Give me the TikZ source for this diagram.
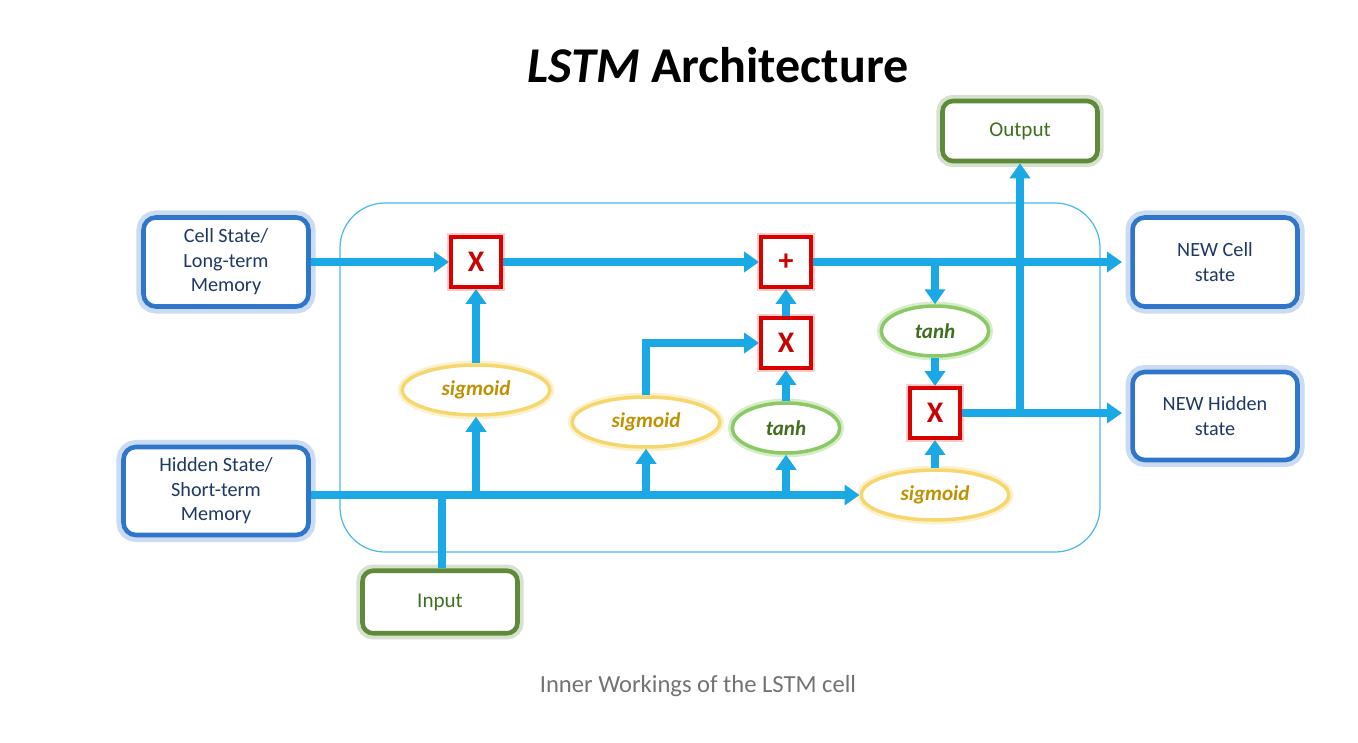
\documentclass[tikz,border=0pt]{standalone}
\usepackage{fontspec}
\setmainfont{Carlito}
\usetikzlibrary{arrows.meta,shapes.geometric,positioning}
\definecolor{flow}{HTML}{1BA9E6}
\definecolor{navy}{HTML}{1F3864}
\definecolor{bbox}{HTML}{2F75C9}
\definecolor{gbox}{HTML}{5E8A3A}
\definecolor{gtext}{HTML}{3F6F1F}
\definecolor{ytext}{HTML}{BF9000}
\definecolor{yline}{HTML}{F5D76E}
\definecolor{gline}{HTML}{8CC966}
\begin{document}
\begin{tikzpicture}[x=0.02cm,y=-0.02cm,
  flowl/.style={draw=flow,line width=0.16cm},
  arr/.style={flowl,-{Triangle[length=0.3cm,width=0.4cm]}},
  bluebox/.style={draw=bbox,line width=2.6pt,rounded corners=7pt,fill=white,
    preaction={draw=bbox!25,line width=8pt},
    text=navy,align=center,font=\fontsize{11.5}{14}\selectfont,inner sep=0pt},
  greenbox/.style={draw=gbox,line width=2.6pt,rounded corners=6pt,fill=white,
    preaction={draw=gbox!25,line width=7pt},
    text=gtext,align=center,font=\fontsize{12}{13}\selectfont,inner sep=0pt},
  op/.style={draw=red!85!black,line width=2.2pt,fill=white,minimum size=1.0cm,
    preaction={draw=red!20,line width=5pt},
    inner sep=0pt,text=red!80!black,font=\fontsize{17}{17}\selectfont\bfseries},
  sig/.style={ellipse,draw=yline,line width=2pt,fill=white,minimum width=2.95cm,
    preaction={draw=yline!35,line width=5pt},
    minimum height=1.0cm,text=ytext,font=\fontsize{12}{13}\selectfont\bfseries\itshape},
  th/.style={ellipse,draw=gline,line width=2pt,fill=white,minimum width=2.15cm,
    preaction={draw=gline!35,line width=5pt},
    minimum height=1.0cm,text=gtext,font=\fontsize{12}{13}\selectfont\bfseries\itshape}
]
\useasboundingbox (0,0) rectangle (1358,743);
\fill[white] (0,0) rectangle (1358,743);
\node (title) at (718,65) {\fontsize{28.5}{31}\selectfont\bfseries\textit{LSTM} Architecture};
\node[text=black!55,font=\fontsize{14}{16}\selectfont] (cap) at (698,686) {Inner Workings of the LSTM cell};
\draw[draw=flow!80,line width=0.7pt,rounded corners=0.9cm] (340,203) rectangle (1100,552);

% boxes
\node[bluebox,minimum width=3.3cm,minimum height=1.78cm] (cs) at (226,262) {Cell State/\\Long-term\\Memory};
\node[bluebox,minimum width=3.7cm,minimum height=1.76cm] (hs) at (216,491) {Hidden State/\\Short-term\\Memory};
\node[bluebox,minimum width=3.3cm,minimum height=1.78cm] (nc) at (1215,262) {NEW Cell\\state};
\node[bluebox,minimum width=3.3cm,minimum height=1.76cm] (nh) at (1215,416) {NEW Hidden\\state};
\node[greenbox,minimum width=3.1cm,minimum height=1.2cm] (out) at (1020,131) {Output};
\node[greenbox,minimum width=3.1cm,minimum height=1.25cm] (in) at (440,602) {Input};

% ops
\node[op] (x1) at (476,262) {X};
\node[op] (pl) at (786,262) {+};
\node[op] (x2) at (786,343) {X};
\node[op] (x3) at (935,413) {X};
\node[sig] (s1) at (476,390) {sigmoid};
\node[sig] (s2) at (646,422) {sigmoid};
\node[th] (t1) at (786,428) {tanh};
\node[th] (t2) at (935,331) {tanh};
\node[sig] (s3) at (935,495) {sigmoid};

\coordinate (hj) at (442,495);
\coordinate (b1) at (476,495);
\coordinate (b2) at (646,495);
\coordinate (b3) at (786,495);
\coordinate (cb) at (935,262);
\coordinate (ob) at (1020,413);
\coordinate (ncl) at (1122,262);
\coordinate (nhl) at (1122,413);

% flows
\draw[arr] (cs.east) -- (x1.west);
\draw[arr] (x1.east) -- (pl.west);
\draw[arr] (pl.east) -- (ncl);
\draw[arr] (cb) -- (t2.north);
\draw[arr] (t2.south) -- (x3.north);
\draw[arr] (s3.north) -- (x3.south);
\draw[arr] (x3.east) -- (nhl);
\draw[arr] (ob) -- (out.south);
\draw[arr] (hs.east |- hj) -- (s3.west);
\draw[flowl] (in.north -| hj) -- (hj);
\draw[arr] (b1) -- (s1.south);
\draw[arr] (s1.north) -- (x1.south);
\draw[arr] (b2) -- (s2.south);
\draw[arr] (b3) -- (t1.south);
\draw[arr] (t1.north) -- (x2.south);
\draw[arr] (x2.north) -- (pl.south);
\draw[arr] (s2.north) |- (x2.west);
\end{tikzpicture}
\end{document}
